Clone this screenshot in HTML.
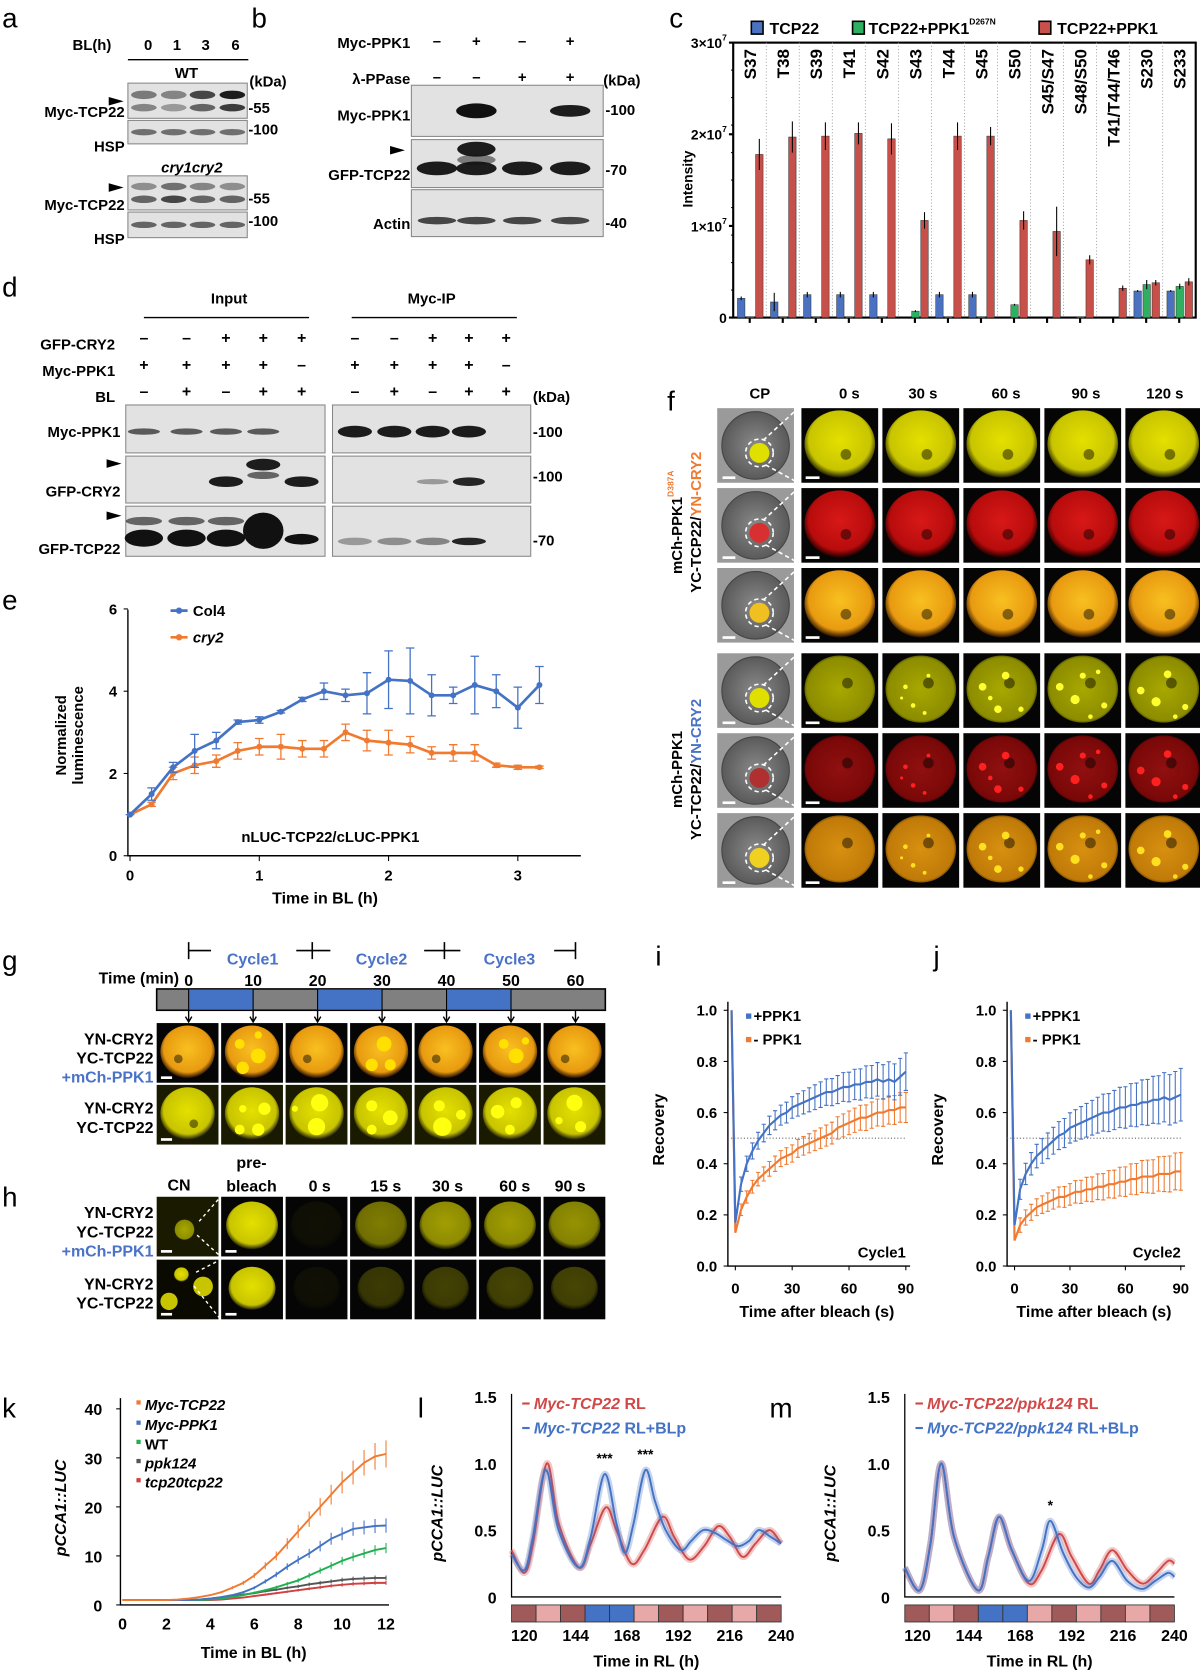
<!DOCTYPE html>
<html><head><meta charset="utf-8">
<style>
html,body{margin:0;padding:0;background:#fff;}
svg{display:block;font-family:"Liberation Sans",Arial,sans-serif;font-weight:bold;}
</style></head>
<body>
<svg id="fig" width="1200" height="1671" viewBox="0 0 1126 1568" xmlns="http://www.w3.org/2000/svg">
<defs>
<radialGradient id="gy" cx="50%" cy="45%" r="55%"><stop offset="0" stop-color="#e4e000"/><stop offset="0.8" stop-color="#c8c400"/><stop offset="1" stop-color="#1a1a00"/></radialGradient>
<radialGradient id="gr" cx="50%" cy="45%" r="55%"><stop offset="0" stop-color="#d81818"/><stop offset="0.8" stop-color="#b80c0c"/><stop offset="1" stop-color="#200000"/></radialGradient>
<radialGradient id="go" cx="50%" cy="45%" r="55%"><stop offset="0" stop-color="#f8c020"/><stop offset="0.8" stop-color="#e89a10"/><stop offset="1" stop-color="#281000"/></radialGradient>
<radialGradient id="gy2" cx="50%" cy="50%" r="55%"><stop offset="0" stop-color="#a8a800"/><stop offset="0.85" stop-color="#8c8c00"/><stop offset="1" stop-color="#101000"/></radialGradient>
<radialGradient id="gr2" cx="50%" cy="50%" r="55%"><stop offset="0" stop-color="#901010"/><stop offset="0.85" stop-color="#7a0808"/><stop offset="1" stop-color="#200000"/></radialGradient>
<radialGradient id="go2" cx="50%" cy="50%" r="55%"><stop offset="0" stop-color="#d89010"/><stop offset="0.85" stop-color="#c07a08"/><stop offset="1" stop-color="#201000"/></radialGradient>
<radialGradient id="gcp" cx="50%" cy="50%" r="50%"><stop offset="0" stop-color="#8a8a8a"/><stop offset="1" stop-color="#5a5a5a"/></radialGradient>
</defs>

<g font-weight="normal" font-size="26" fill="#000">
<text x="2" y="26">a</text>
<text x="236" y="26">b</text>
<text x="628" y="26">c</text>
<text x="2" y="278">d</text>
<text x="2" y="572">e</text>
<text x="626" y="385">f</text>
<text x="2" y="910">g</text>
<text x="2" y="1132">h</text>
<text x="615" y="906">i</text>
<text x="876" y="906">j</text>
<text x="2" y="1330">k</text>
<text x="392" y="1330">l</text>
<text x="722" y="1330">m</text>
</g>

<g font-size="14">
<text x="68" y="47">BL(h)</text>
<text x="139" y="47" text-anchor="middle">0</text>
<text x="166" y="47" text-anchor="middle">1</text>
<text x="193" y="47" text-anchor="middle">3</text>
<text x="221" y="47" text-anchor="middle">6</text>
<line x1="120" y1="56" x2="233" y2="56" stroke="#000" stroke-width="1.3"/>
<text x="175" y="73" text-anchor="middle">WT</text>
<text x="234" y="81">(kDa)</text>
<text x="117" y="110" text-anchor="end">Myc-TCP22</text>
<text x="117" y="142" text-anchor="end">HSP</text>
<text x="180" y="162" text-anchor="middle" font-style="italic">cry1cry2</text>
<text x="117" y="197" text-anchor="end">Myc-TCP22</text>
<text x="117" y="229" text-anchor="end">HSP</text>
<text x="233" y="106">-55</text>
<text x="233" y="126">-100</text>
<text x="233" y="191">-55</text>
<text x="233" y="212">-100</text>
<polygon points="102,91 116,95 102,99" fill="#000"/>
<polygon points="102,172 116,176 102,180" fill="#000"/>
</g>

<g font-size="14">
<text x="385" y="45" text-anchor="end">Myc-PPK1</text>
<text x="385" y="79" text-anchor="end">λ-PPase</text>
<text x="410" y="43" text-anchor="middle">–</text>
<text x="447" y="43" text-anchor="middle">+</text>
<text x="490" y="43" text-anchor="middle">–</text>
<text x="535" y="43" text-anchor="middle">+</text>
<text x="410" y="77" text-anchor="middle">–</text>
<text x="447" y="77" text-anchor="middle">–</text>
<text x="490" y="77" text-anchor="middle">+</text>
<text x="535" y="77" text-anchor="middle">+</text>
<text x="566" y="80">(kDa)</text>
<text x="385" y="113" text-anchor="end">Myc-PPK1</text>
<text x="385" y="169" text-anchor="end">GFP-TCP22</text>
<text x="385" y="215" text-anchor="end">Actin</text>
<text x="568" y="108">-100</text>
<text x="568" y="164">-70</text>
<text x="568" y="214">-40</text>
<polygon points="366,137 380,141 366,145" fill="#000"/>
</g>

<g font-size="14">
<text x="215" y="285" text-anchor="middle">Input</text>
<line x1="135" y1="298" x2="290" y2="298" stroke="#000" stroke-width="1.2"/>
<text x="405" y="285" text-anchor="middle">Myc-IP</text>
<line x1="330" y1="298" x2="485" y2="298" stroke="#000" stroke-width="1.2"/>
<text x="108" y="328" text-anchor="end">GFP-CRY2</text>
<text x="108" y="353" text-anchor="end">Myc-PPK1</text>
<text x="108" y="377" text-anchor="end">BL</text>
<text x="500" y="377">(kDa)</text>
<text x="113" y="410" text-anchor="end">Myc-PPK1</text>
<text x="113" y="466" text-anchor="end">GFP-CRY2</text>
<text x="113" y="520" text-anchor="end">GFP-TCP22</text>
<text x="500" y="410">-100</text>
<text x="500" y="452">-100</text>
<text x="500" y="512">-70</text>
<polygon points="100,431 114,435 100,439" fill="#000"/>
<polygon points="100,480 114,484 100,488" fill="#000"/>
</g>
<g id="dsigns" font-size="15"></g>

<g font-size="15">
<rect x="705" y="20" width="11" height="12" fill="#4a72c0" stroke="#000" stroke-width="1.5"/>
<text x="722" y="32">TCP22</text>
<rect x="800" y="20" width="11" height="12" fill="#2fb060" stroke="#000" stroke-width="1.5"/>
<text x="815" y="32">TCP22+PPK1<tspan font-size="8" dy="-9">D267N</tspan></text>
<rect x="975" y="20" width="11" height="12" fill="#c8504a" stroke="#000" stroke-width="1.5"/>
<text x="992" y="32">TCP22+PPK1</text>
<text transform="translate(650,168) rotate(-90)" text-anchor="middle" font-size="13">Intensity</text>
</g>
<g id="pc"></g>

<g font-size="14">
<text transform="translate(62,690) rotate(-90)" text-anchor="middle">Normalized</text>
<text transform="translate(78,690) rotate(-90)" text-anchor="middle">luminescence</text>
<text x="305" y="848" text-anchor="middle" font-size="15">Time in BL (h)</text>
<text x="310" y="790" text-anchor="middle">nLUC-TCP22/cLUC-PPK1</text>
</g>
<g id="pe"></g>

<g font-size="14">
<text x="713" y="374" text-anchor="middle">CP</text>
<text x="797" y="374" text-anchor="middle">0 s</text>
<text x="866" y="374" text-anchor="middle">30 s</text>
<text x="944" y="374" text-anchor="middle">60 s</text>
<text x="1019" y="374" text-anchor="middle">90 s</text>
<text x="1093" y="374" text-anchor="middle">120 s</text>
<text transform="translate(640,490) rotate(-90)" text-anchor="middle">mCh-PPK1<tspan fill="#f07a30" font-size="8" dy="-8">D387A</tspan></text>
<text transform="translate(658,490) rotate(-90)" text-anchor="middle">YC-TCP22/<tspan fill="#f07a30">YN-CRY2</tspan></text>
<text transform="translate(640,722) rotate(-90)" text-anchor="middle">mCh-PPK1</text>
<text transform="translate(658,722) rotate(-90)" text-anchor="middle">YC-TCP22/<tspan fill="#4a72c8">YN-CRY2</tspan></text>
</g>
<g id="pf"></g>

<g font-size="15">
<text x="237" y="905" text-anchor="middle" fill="#4a72c8">Cycle1</text>
<text x="358" y="905" text-anchor="middle" fill="#4a72c8">Cycle2</text>
<text x="478" y="905" text-anchor="middle" fill="#4a72c8">Cycle3</text>
<text x="168" y="923" text-anchor="end">Time (min)</text>
<text x="168" y="1117" text-anchor="middle">CN</text>
<text x="236" y="1096" text-anchor="middle">pre-</text>
<text x="236" y="1118" text-anchor="middle">bleach</text>
<text x="300" y="1118" text-anchor="middle">0 s</text>
<text x="362" y="1118" text-anchor="middle">15 s</text>
<text x="420" y="1118" text-anchor="middle">30 s</text>
<text x="483" y="1118" text-anchor="middle">60 s</text>
<text x="535" y="1118" text-anchor="middle">90 s</text>
<text x="144" y="980" text-anchor="end">YN-CRY2</text>
<text x="144" y="998" text-anchor="end">YC-TCP22</text>
<text x="144" y="1016" text-anchor="end" fill="#4a72c8">+mCh-PPK1</text>
<text x="144" y="1045" text-anchor="end">YN-CRY2</text>
<text x="144" y="1063" text-anchor="end">YC-TCP22</text>
<text x="144" y="1143" text-anchor="end">YN-CRY2</text>
<text x="144" y="1161" text-anchor="end">YC-TCP22</text>
<text x="144" y="1179" text-anchor="end" fill="#4a72c8">+mCh-PPK1</text>
<text x="144" y="1210" text-anchor="end">YN-CRY2</text>
<text x="144" y="1228" text-anchor="end">YC-TCP22</text>
</g>
<g id="pg"></g>

<g id="pi"></g><g id="pj"></g><g id="pk"></g><g id="pl"></g><g id="pm"></g>
</svg>
<script>
const cCats=['S37','T38','S39','T41','S42','S43','T44','S45','S50','S45/S47','S48/S50','T41/T44/T46','S230','S233'];
const cTCP22=[0.21,0.17,0.25,0.25,0.25,0,0.25,0.25,0,0,0,0,0.29,0.29];
const cD267N=[0.01,0.01,0.01,0.01,0.01,0.07,0.01,0.01,0.14,0,0.01,0,0.36,0.34];
const cPPK1=[1.78,1.97,1.98,2.01,1.95,1.06,1.98,1.98,1.06,0.94,0.63,0.32,0.38,0.39];
const cErrT=[0.02,0.1,0.03,0.03,0.03,0,0.03,0.03,0,0,0,0,0.01,0.01];
const cErrD=[0,0,0,0,0,0.01,0,0,0.01,0,0,0,0.05,0.03];
const cErrP=[0.17,0.17,0.15,0.12,0.17,0.09,0.15,0.1,0.1,0.27,0.05,0.03,0.03,0.04];
const cTicks=['0','1×10','2×10','3×10'];
const eTime=[0,0.167,0.333,0.5,0.667,0.833,1,1.167,1.333,1.5,1.667,1.833,2,2.167,2.333,2.5,2.667,2.833,3,3.167];
const eCol4=[1,1.5,2.15,2.55,2.8,3.25,3.3,3.5,3.8,4.0,3.9,3.95,4.28,4.25,3.9,3.9,4.15,4.0,3.6,4.15];
const eCol4Err=[0,0.15,0.12,0.4,0.2,0.05,0.08,0.03,0.05,0.2,0.15,0.5,0.7,0.8,0.5,0.2,0.7,0.4,0.5,0.45];
const eCry2=[1,1.25,2.0,2.2,2.3,2.55,2.65,2.65,2.6,2.6,3.0,2.8,2.75,2.7,2.5,2.5,2.5,2.2,2.15,2.15];
const eCry2Err=[0,0.05,0.15,0.2,0.15,0.2,0.2,0.3,0.2,0.2,0.2,0.25,0.3,0.2,0.15,0.2,0.2,0.05,0.05,0.03];
const eXTicks=[0,1,2,3];
const eYTicks=[0,2,4,6];
const frapT=[-2,0,3,6,9,12,15,18,21,24,27,30,33,36,39,42,45,48,51,54,57,60,63,66,69,72,75,78,81,84,87,90];
const iPlus=[1.0,0.17,0.32,0.4,0.45,0.49,0.52,0.55,0.57,0.59,0.6,0.62,0.63,0.64,0.65,0.66,0.67,0.68,0.68,0.69,0.7,0.7,0.71,0.71,0.72,0.72,0.73,0.72,0.73,0.72,0.74,0.76];
const iMinus=[1.0,0.13,0.22,0.27,0.31,0.34,0.36,0.38,0.4,0.42,0.43,0.44,0.46,0.47,0.48,0.49,0.5,0.51,0.52,0.54,0.55,0.56,0.57,0.58,0.58,0.59,0.6,0.6,0.61,0.61,0.62,0.62];
const jPlus=[1.0,0.16,0.3,0.36,0.4,0.43,0.45,0.47,0.49,0.51,0.52,0.54,0.55,0.56,0.57,0.58,0.59,0.6,0.6,0.61,0.62,0.62,0.63,0.63,0.64,0.64,0.65,0.65,0.66,0.65,0.66,0.67];
const jMinus=[1.0,0.1,0.16,0.19,0.21,0.23,0.24,0.25,0.26,0.27,0.27,0.28,0.29,0.29,0.3,0.3,0.31,0.31,0.32,0.32,0.33,0.33,0.34,0.34,0.35,0.35,0.35,0.36,0.36,0.36,0.37,0.37];
const frapXTicks=[0,30,60,90];
const frapYTicks=[0,0.2,0.4,0.6,0.8,1.0];
const kTime=[0,0.5,1,1.5,2,2.5,3,3.5,4,4.5,5,5.5,6,6.5,7,7.5,8,8.5,9,9.5,10,10.5,11,11.5,12];
const kMycTCP22=[1,1,1,1,1,1.1,1.3,1.6,2,2.6,3.5,4.5,6,8,10,12.5,15,17.5,20,22.5,25,27,29,30.3,30.8];
const kMycPPK1=[1,1,1,1,1,1,1,1.1,1.3,1.6,2,2.6,3.5,4.8,6.2,7.8,9.2,10.5,12,13.5,14.5,15.5,15.8,16.1,16.2];
const kWT=[1,1,1,1,1,1,1,1,1.1,1.3,1.6,2,2.5,3,3.6,4.3,5,6,7,8,9,9.8,10.5,11.2,11.6];
const kPpk124=[1,1,1,1,1,1,1,1.1,1.3,1.5,1.8,2.1,2.4,2.8,3.1,3.5,3.8,4.2,4.5,4.8,5.1,5.3,5.4,5.5,5.5];
const kTcp=[1,1,1,1,1,1,1,1,1,1.1,1.3,1.5,1.8,2.1,2.4,2.7,3,3.3,3.6,3.9,4.1,4.3,4.4,4.5,4.5];
const kXTicks=[0,2,4,6,8,10,12];
const kYTicks=[0,10,20,30,40];
const lRedT=[114,120,124,130.5,136,145.5,151,158,163,170,176,184.5,190,197,204,210.5,216,222,228,234.5,240];
const lRed=[0.35,0.18,0.4,1.0,0.55,0.22,0.4,0.67,0.5,0.25,0.35,0.6,0.45,0.28,0.38,0.53,0.45,0.3,0.4,0.5,0.4];
const lBlueT=[114,120,124,130,136,145.5,151,157.5,163,167,171,176.5,181,186,193,198,203.5,209,215,220,225,229.5,235,240];
const lBlue=[0.32,0.2,0.45,0.95,0.5,0.22,0.45,0.92,0.55,0.33,0.55,0.95,0.72,0.5,0.35,0.42,0.5,0.48,0.42,0.38,0.42,0.5,0.45,0.4];
const mRedT=[114,121,126,131,137,148,153,158,164,172,178,186,192,200,205,211,218,225,231,237,240];
const mRed=[0.22,0.05,0.4,1.0,0.45,0.05,0.3,0.6,0.35,0.1,0.2,0.47,0.3,0.1,0.2,0.35,0.2,0.1,0.17,0.27,0.25];
const mBlueT=[114,121,126,131,137,148,153,158,164,172,178,182,188,194,200,205,211,218,225,231,237,240];
const mBlue=[0.22,0.05,0.4,1.0,0.45,0.05,0.3,0.6,0.35,0.12,0.35,0.57,0.33,0.15,0.07,0.15,0.27,0.12,0.06,0.12,0.18,0.15];
const lmXTicks=[120,144,168,192,216,240];
const lmYTicks=[0,0.5,1.0,1.5];

const NS='http://www.w3.org/2000/svg';
function el(tag,attrs,parent){const e=document.createElementNS(NS,tag);for(const k in attrs)e.setAttribute(k,attrs[k]);(parent||document.getElementById('fig')).appendChild(e);return e;}
function tx(x,y,s,attrs,parent){const e=el('text',Object.assign({x:x,y:y},attrs||{}),parent);e.textContent=s;return e;}
function smooth(pts){let d='M'+pts[0][0]+','+pts[0][1];for(let i=0;i<pts.length-1;i++){const p0=pts[i-1]||pts[i],p1=pts[i],p2=pts[i+1],p3=pts[i+2]||p2;const c1x=p1[0]+(p2[0]-p0[0])/6,c1y=p1[1]+(p2[1]-p0[1])/6,c2x=p2[0]-(p3[0]-p1[0])/6,c2y=p2[1]-(p3[1]-p1[1])/6;d+=' C'+c1x.toFixed(1)+','+c1y.toFixed(1)+' '+c2x.toFixed(1)+','+c2y.toFixed(1)+' '+p2[0].toFixed(1)+','+p2[1].toFixed(1);}return d;}

function blotBox(x,y,w,h,name){const r=el('rect',{x:x,y:y,width:w,height:h,fill:'#e2e2e2',stroke:'#888','stroke-width':1});

}
function band(cx,cy,w,h,op,name){const e=el('ellipse',{cx:cx,cy:cy,rx:w/2,ry:h/2,fill:'#111','fill-opacity':op});

}
blotBox(120,78,112,33,'a-blot-wt-tcp22');blotBox(120,113,112,22,'a-blot-wt-hsp');
blotBox(120,165,112,32,'a-blot-cry-tcp22');blotBox(120,199,112,24,'a-blot-cry-hsp');
const aL=[135,163,190,218];
[[0.5,0.45],[0.45,0.35],[0.75,0.6],[0.95,0.8]].forEach((o,i)=>{band(aL[i],89,24,8,o[0],'a-band-upper');band(aL[i],101,24,7,o[1],'a-band-lower');band(aL[i],124,24,6,0.55,'a-band-hsp');});
[[0.4,0.6],[0.55,0.75],[0.45,0.6],[0.4,0.6]].forEach((o,i)=>{band(aL[i],175,24,7,o[0],'a-band-upper');band(aL[i],187,24,7,o[1],'a-band-lower');band(aL[i],211,24,6,0.6,'a-band-hsp');});
blotBox(386,80,180,48,'b-blot-ppk1');blotBox(386,131,180,45,'b-blot-tcp22');blotBox(386,178,180,44,'b-blot-actin');
const bL=[410,447,490,535];
band(447,104,38,14,1,'b-band-ppk1');band(535,104,38,11,0.95,'b-band-ppk1');
bL.forEach(x=>{band(x,158,38,13,0.95,'b-band-tcp22');band(x,207,36,7,0.75,'b-band-actin');});
band(447,140,36,14,0.95,'b-band-tcp22-shift');band(447,150,36,10,0.5,'b-band-smear');
blotBox(118,380,187,45,'d-blot-input-ppk1');blotBox(312,380,186,45,'d-blot-ip-ppk1');
blotBox(118,428,187,44,'d-blot-input-cry2');blotBox(312,428,186,44,'d-blot-ip-cry2');
blotBox(118,475,187,47,'d-blot-input-tcp22');blotBox(312,475,186,47,'d-blot-ip-tcp22');
const dIn=[135,175,212,247,283],dIP=[333,370,406,440,475];
[0,1,2,3].forEach(i=>{band(dIn[i],405,30,6,0.65,'d-band');band(dIP[i],405,32,11,0.95,'d-band');});
band(dIn[2],452,32,10,0.95,'d-band');band(dIn[4],452,32,10,0.95,'d-band');band(dIn[3],436,32,11,0.95,'d-band');band(dIn[3],446,30,7,0.6,'d-band');
band(dIP[2],452,30,5,0.35,'d-band');band(dIP[3],452,30,8,0.9,'d-band');
[0,1,2].forEach(i=>{band(dIn[i],505,36,16,1,'d-band');band(dIn[i],489,34,8,0.6,'d-band');});
band(dIn[3],498,38,34,1,'d-band');band(dIn[4],506,32,10,1,'d-band');
[0.35,0.4,0.45,0.9].forEach((o,i)=>band(dIP[i],508,32,7,o,'d-band'));
const dsg=document.getElementById('dsigns');
const dRows=[['–','–','+','+','+'],['+','+','+','+','–'],['–','+','–','+','+']];
dRows.forEach((row,r)=>row.forEach((s,c)=>{[dIn,dIP].forEach(arr=>{const t=tx(arr[c],322+r*25,s,{'text-anchor':'middle'},dsg);

});}));

(function(){const g=document.getElementById('pc');
const x0=688,x1=1122,y0=298,yTop=40,gw=(x1-x0)/cCats.length;
const ys=v=>y0-(v/3)*(y0-yTop);
let fr=el('rect',{x:x0,y:yTop,width:x1-x0,height:y0-yTop,fill:'none',stroke:'#000','stroke-width':2},g);


cTicks.forEach((t,i)=>{const y=ys(i);let l=el('line',{x1:x0-4,y1:y,x2:x0,y2:y,stroke:'#000','stroke-width':2},g);


const tt=tx(x0-6,y+5,t,{'text-anchor':'end','font-size':13},g);


if(i>0){const s=el('tspan',{'font-size':8,dy:-7},tt);s.textContent='7';}});
for(let i=1;i<10;i++){const l=el('line',{x1:x0-2,y1:ys(i*0.3),x2:x0,y2:ys(i*0.3),stroke:'#000'},g);}
cCats.forEach((c,i)=>{const gx=x0+i*gw;
if(i>0){const d=el('line',{x1:gx,y1:yTop,x2:gx,y2:y0,stroke:'#999','stroke-dasharray':'1,2','stroke-width':0.8},g);}
const lt=tx(0,0,c,{transform:'translate('+(gx+gw/2+6)+',46) rotate(-90)','text-anchor':'end','font-size':16},g);


const tk=el('line',{x1:gx+gw/2,y1:y0,x2:gx+gw/2,y2:y0+5,stroke:'#000','stroke-width':2},g);
[[cTCP22,cErrT,'#4a72c0'],[cD267N,cErrD,'#2fb060'],[cPPK1,cErrP,'#c8504a']].forEach((s,k)=>{const v=s[0][i];const bx=gx+4+k*8.5;
const b=el('rect',{x:bx,y:ys(v),width:7,height:y0-ys(v),fill:s[2],stroke:'#333','stroke-width':0.5},g);


if(s[1][i]>0){const e=el('line',{x1:bx+3.5,y1:ys(v+s[1][i]),x2:bx+3.5,y2:ys(Math.max(0,v-s[1][i])),stroke:'#000','stroke-width':1},g);

}});});
})();

(function(){const g=document.getElementById('pe');
const xs=t=>122+t*121.3, ys=v=>803-v*38.6;
const ax=el('path',{d:'M120,572 L120,803 L545,803',fill:'none',stroke:'#000','stroke-width':1.3},g);


eYTicks.forEach(v=>{const l=el('line',{x1:116,y1:ys(v),x2:120,y2:ys(v),stroke:'#000'},g);
const t=tx(106,ys(v)+5,String(v),{'text-anchor':'middle','font-size':14},g);});
eXTicks.forEach(v=>{const l=el('line',{x1:xs(v),y1:803,x2:xs(v),y2:808,stroke:'#000'},g);
const t=tx(xs(v),826,String(v),{'text-anchor':'middle','font-size':14},g);});
[[eCry2,eCry2Err,'#f07a30','cry2'],[eCol4,eCol4Err,'#4472c4','col4']].forEach(s=>{
const pts=eTime.map((t,i)=>xs(t)+','+ys(s[0][i])).join(' ');
const p=el('polyline',{points:pts,fill:'none',stroke:s[2],'stroke-width':2.5},g);


eTime.forEach((t,i)=>{const v=s[0][i],e=s[1][i];
const eb=el('path',{d:'M'+xs(t)+','+ys(v+e)+' V'+ys(v-e)+' M'+(xs(t)-4)+','+ys(v+e)+' h8 M'+(xs(t)-4)+','+ys(v-e)+' h8',stroke:s[2],'stroke-width':1.2,fill:'none'},g);


const c=el('circle',{cx:xs(t),cy:ys(v),r:2.8,fill:s[2]},g);

});});
[['#4472c4','Col4',578,'normal'],['#f07a30','cry2',603,'italic']].forEach(s=>{
const l=el('line',{x1:160,y1:s[2]-5,x2:176,y2:s[2]-5,stroke:s[0],'stroke-width':2.5},g);
const c=el('circle',{cx:168,cy:s[2]-5,r:3,fill:s[0]},g);
const t=tx(181,s[2],s[1],{'font-size':14,'font-style':s[3]},g);});
})();

function cellTile(g,x,y,w,h,grad,opts){opts=opts||{};
const bg=el('rect',{x:x,y:y,width:w,height:h,fill:opts.bg||'#050505'},g);


if(opts.cell!==false){const c=el('ellipse',{cx:x+w*(opts.cx||0.5),cy:y+h*(opts.cy||0.48),rx:w*(opts.rx||0.44),ry:h*(opts.ry||0.44),fill:grad,opacity:opts.op||1},g);

}
if(opts.nuc){const n=el('circle',{cx:x+w*opts.nuc[0],cy:y+h*opts.nuc[1],r:w*0.07,fill:'#000',opacity:0.45},g);

}
(opts.dots||[]).forEach(d=>{const c=el('circle',{cx:x+w*d[0],cy:y+h*d[1],r:w*d[2],fill:opts.dotc||'#ffff20'},g);

});
if(opts.bar){const b=el('rect',{x:x+4,y:y+h-6,width:w*0.18,height:2.5,fill:'#fff'},g);}}
function cpTile(g,x,y,w,h,col,name){const bg=el('rect',{x:x,y:y,width:w,height:h,fill:'#9a9a9a'},g);


const c=el('circle',{cx:x+w/2,cy:y+h/2,r:w*0.44,fill:'url(#gcp)',stroke:'#444','stroke-width':1},g);
const n=el('circle',{cx:x+w*0.55,cy:y+h*0.6,r:w*0.13,fill:col},g);
const d=el('circle',{cx:x+w*0.55,cy:y+h*0.6,r:w*0.18,fill:'none',stroke:'#fff','stroke-width':1.5,'stroke-dasharray':'4,3'},g);
const l=el('path',{d:'M'+(x+w*0.6)+','+(y+h*0.43)+' L'+(x+w+4)+','+y+' M'+(x+w*0.63)+','+(y+h*0.76)+' L'+(x+w+4)+','+(y+h),stroke:'#fff','stroke-width':1.5,'stroke-dasharray':'4,3'},g);
const sb=el('rect',{x:x+5,y:y+h-6,width:12,height:2.5,fill:'#fff'},g);}
(function(){const g=document.getElementById('pf');
const cols=[752,828,904,980,1056],rows=[383,458,533,613,688,763];
const grads=['url(#gy)','url(#gr)','url(#go)','url(#gy2)','url(#gr2)','url(#go2)'];
const cpc=['#e0e000','#d83030','#f0c020','#e0e000','#b03030','#f0d020'];
const dotc=['#ffff30','#ff2020','#ffe020'];
const dotSets=[[],[[0.3,0.45,0.03],[0.4,0.7,0.03],[0.6,0.3,0.025],[0.25,0.6,0.02],[0.55,0.8,0.025]],
[[0.25,0.45,0.05],[0.55,0.3,0.05],[0.45,0.75,0.05],[0.75,0.75,0.035],[0.35,0.6,0.03]],
[[0.2,0.45,0.05],[0.5,0.3,0.04],[0.4,0.62,0.06],[0.78,0.7,0.04],[0.6,0.85,0.03],[0.7,0.25,0.03]],
[[0.2,0.5,0.05],[0.55,0.28,0.05],[0.4,0.65,0.06],[0.78,0.72,0.04],[0.65,0.85,0.03]]];
rows.forEach((y,r)=>{cpTile(g,673,y,72,70,cpc[r],'f-cp-image');
cols.forEach((x,c)=>{const o={name:'f-micrograph',nuc:r<3?[0.58,0.62]:[0.6,0.4],bar:c===0,rx:0.46,ry:0.45};
if(r>=3){o.dots=dotSets[c];o.dotc=dotc[r-3];}
cellTile(g,x,y,72,70,grads[r],o);});});
})();

(function(){const g=document.getElementById('pg');
const tm=[0,10,20,30,40,50,60],xs=t=>177+t*6.05;
const bar=el('rect',{x:147,y:928,width:421,height:20,fill:'#808080',stroke:'#000','stroke-width':1.5},g);
[[0,10],[20,30],[40,50]].forEach(s=>{const b=el('rect',{x:xs(s[0]),y:928,width:xs(s[1])-xs(s[0]),height:20,fill:'#4472c4',stroke:'#000','stroke-width':1},g);});
tm.forEach(t=>{const x=xs(t);const tt=tx(x,925,String(t),{'text-anchor':'middle','font-size':15},g);
const a=el('path',{d:'M'+x+',948 V958 M'+(x-3)+',954 L'+x+',959 L'+(x+3)+',954',stroke:'#000','stroke-width':1.3,fill:'none'},g);});
const br=el('path',{d:'M177,884 V900 M177,892 H198 M278,892 H310 M293,884 V900 M398,892 H432 M417,884 V900 M520,892 H540 M540,884 V900',stroke:'#000','stroke-width':1.5,fill:'none'},g);
const tx0=147,tw=58,step=60.5;
const blob1=[[],[[0.3,0.35,0.08],[0.6,0.55,0.12],[0.35,0.75,0.1],[0.6,0.2,0.06]],[],[[0.55,0.35,0.12],[0.35,0.7,0.1],[0.65,0.7,0.09]],[],[[0.6,0.55,0.12],[0.4,0.35,0.08],[0.75,0.3,0.06]],[]];
const blob2=[[],[[0.35,0.4,0.06],[0.7,0.4,0.1],[0.6,0.75,0.1],[0.3,0.75,0.08]],[[0.55,0.3,0.14],[0.5,0.7,0.14],[0.15,0.4,0.05]],[[0.35,0.35,0.09],[0.65,0.55,0.12],[0.35,0.75,0.08]],[[0.4,0.35,0.09],[0.45,0.7,0.15],[0.75,0.5,0.08]],[[0.3,0.45,0.11],[0.6,0.3,0.09],[0.5,0.75,0.08]],[[0.5,0.3,0.13],[0.6,0.7,0.09],[0.25,0.6,0.06]]];
for(let i=0;i<7;i++){const x=tx0+i*step;
cellTile(g,x,960,tw,56,'url(#go)',{name:'g-micrograph-ppk1',dots:blob1[i],dotc:'#ffe000',nuc:i%2===0?[0.35,0.6]:null,bar:i===0});
cellTile(g,x,1018,tw,56,'url(#gy)',{name:'g-micrograph-ctrl',dots:blob2[i],dotc:'#ffff10',nuc:i===0?[0.6,0.65]:null,bar:i===0,bg:'#1a1a00'});}
const hop=[1,1,0.05,0.55,0.7,0.7,0.65],hop2=[1,1,0.05,0.25,0.28,0.3,0.3];
for(let i=0;i<7;i++){const x=tx0+i*step;
if(i===0){cellTile(g,x,1123,tw,56,'url(#gy2)',{name:'h-cn-image',rx:0.16,ry:0.17,cx:0.45,cy:0.55,bar:true,bg:'#1a1a00'});
cellTile(g,x,1182,tw,56,'url(#gy)',{name:'h-cn-image-2',rx:0.12,ry:0.12,cx:0.4,cy:0.25,dots:[[0.2,0.7,0.14],[0.75,0.45,0.16]],dotc:'#c8c400',bar:true,bg:'#0a0a00'});
[[0.55,0.5],[0.5,0.3]].forEach((c,k)=>{const cy=k?1182:1123;const d=el('path',{d:'M'+(x+tw*c[0]+8)+','+(cy+56*c[1]-5)+' L'+(x+tw+2)+','+cy+' M'+(x+tw*c[0]+6)+','+(cy+56*c[1]+8)+' L'+(x+tw+2)+','+(cy+56),stroke:'#fff','stroke-width':1.3,'stroke-dasharray':'3,3'},g);});}
else{cellTile(g,x,1123,tw,56,'url(#gy)',{name:'h-frap-image',op:hop[i],rx:0.42,ry:0.4,bar:i===1});
cellTile(g,x,1182,tw,56,'url(#gy)',{name:'h-frap-image-2',op:hop2[i],rx:0.38,ry:0.36,bar:i===1});}}
})();

function frap(gid,x0,xEnd,plus,minus,plusErr,minusErr,label,p){const g=document.getElementById(gid);
const y0=1188,ys=v=>y0-v*240,xs=t=>x0+7+t*(xEnd-x0-7)/90;
const ax=el('path',{d:'M'+x0+',940 V'+y0+' H'+(xEnd+4),fill:'none',stroke:'#000','stroke-width':1.3},g);
frapYTicks.forEach(v=>{const l=el('line',{x1:x0-4,y1:ys(v),x2:x0,y2:ys(v),stroke:'#000'},g);
const t=tx(x0-10,ys(v)+5,v.toFixed(1),{'text-anchor':'end','font-size':14},g);});
frapXTicks.forEach(v=>{const l=el('line',{x1:xs(v),y1:y0,x2:xs(v),y2:y0+4,stroke:'#000'},g);
const t=tx(xs(v),1214,String(v),{'text-anchor':'middle','font-size':14},g);});
const hl=el('line',{x1:x0,y1:ys(0.5),x2:xEnd,y2:ys(0.5),stroke:'#666','stroke-dasharray':'1,2'},g);
[[minus,minusErr,'#f07a30','minus'],[plus,plusErr,'#4472c4','plus']].forEach(s=>{
frapT.forEach((t,i)=>{if(i<2)return;const v=s[0][i],e=s[1]*(0.5+i/frapT.length);
const eb=el('path',{d:'M'+xs(t)+','+ys(v+e)+' V'+ys(v-e)+' M'+(xs(t)-2)+','+ys(v+e)+' h4 M'+(xs(t)-2)+','+ys(v-e)+' h4',stroke:s[2],'stroke-width':1,fill:'none'},g);

});
const pl=el('polyline',{points:frapT.map((t,i)=>xs(t)+','+ys(s[0][i])).join(' '),fill:'none',stroke:s[2],'stroke-width':2},g);

});
[['#4472c4','+PPK1',958],['#f07a30','- PPK1',980]].forEach(s=>{const m=el('rect',{x:x0+17,y:s[2]-7,width:5,height:5,fill:s[0]},g);
const t=tx(x0+24,s[2],s[1],{'font-size':14},g);});
const cl=tx(xEnd,1180,label,{'text-anchor':'end','font-size':14},g);
const yt=tx(0,0,'Recovery',{transform:'translate('+(x0-60)+',1060) rotate(-90)','text-anchor':'middle','font-size':15},g);
const xt=tx((x0+xEnd)/2,1236,'Time after bleach (s)',{'text-anchor':'middle','font-size':15},g);}
frap('pi',683,850,iPlus,iMinus,0.05,0.04,'Cycle1','i');
frap('pj',945,1108,jPlus,jMinus,0.07,0.05,'Cycle2','j');

(function(){const g=document.getElementById('pk');
const xs=t=>115+t*20.6,ys=v=>1506-v*4.6;
const ax=el('path',{d:'M113,1312 V1506 H365',fill:'none',stroke:'#000','stroke-width':1.3},g);
kYTicks.forEach(v=>{const t=tx(96,ys(v)+6,String(v),{'text-anchor':'end','font-size':15},g);
const l=el('line',{x1:109,y1:ys(v),x2:113,y2:ys(v),stroke:'#000'},g);});
kXTicks.forEach(v=>{const t=tx(xs(v),1529,String(v),{'text-anchor':'middle','font-size':15},g);});
const ser=[[kTcp,'#d04040','tcp20tcp22'],[kPpk124,'#555555','ppk124'],[kWT,'#20b050','WT'],[kMycPPK1,'#4472c4','Myc-PPK1'],[kMycTCP22,'#f07a30','Myc-TCP22']];
ser.forEach(s=>{kTime.forEach((t,i)=>{const v=s[0][i],e=v*0.09;const eb=el('line',{x1:xs(t),y1:ys(v+e),x2:xs(t),y2:ys(v-e),stroke:s[1],'stroke-width':1},g);});
const pl=el('polyline',{points:kTime.map((t,i)=>xs(t)+','+ys(s[0][i])).join(' '),fill:'none',stroke:s[1],'stroke-width':1.8},g);

});
const leg=[['#f07a30','Myc-TCP22',1323],['#4472c4','Myc-PPK1',1342],['#20b050','WT',1360],['#555555','ppk124',1378],['#d04040','tcp20tcp22',1396]];
leg.forEach(s=>{const m=el('rect',{x:128,y:s[2]-9,width:4,height:4,fill:s[0]},g);
const t=tx(136,s[2],s[1],{'font-size':14,'font-style':s[1]==='WT'?'normal':'italic'},g);});
const yt=tx(0,0,'pCCA1::LUC',{transform:'translate(62,1415) rotate(-90)','text-anchor':'middle','font-size':15,'font-style':'italic'},g);
const xt=tx(238,1556,'Time in BL (h)',{'text-anchor':'middle','font-size':15},g);})();

function circ(gid,p,x0,redT,red,blueT,blue,legR,legB,stars){const g=document.getElementById(gid);
const xs=t=>x0+(t-114)*2.008,ys=v=>1498.5-v*125.3,xEnd=xs(240);
const ax=el('path',{d:'M'+x0+',1308 V1498.5 H'+xEnd,fill:'none',stroke:'#000','stroke-width':1.2},g);
lmYTicks.forEach(v=>{const t=tx(x0-14,ys(v)+6,v===0?'0':v.toFixed(1),{'text-anchor':'end','font-size':15},g);});
lmXTicks.forEach(v=>{const t=tx(xs(v),1540,String(v),{'text-anchor':'middle','font-size':15},g);});
const segC=['#a05a5a','#e8a8a8','#a05a5a','#4472c4','#4472c4','#e8a8a8','#a05a5a','#e8a8a8','#a05a5a','#e8a8a8','#a05a5a'];
const sw=(xEnd-x0)/segC.length;
segC.forEach((c,i)=>{const r=el('rect',{x:x0+i*sw,y:1506,width:sw,height:16,fill:c,stroke:'#333','stroke-width':0.8},g);});
[[redT,red,'#d04848','rl'],[blueT,blue,'#4472c4','rl-blp']].forEach(s=>{const pts=s[0].map((t,i)=>[xs(t),ys(s[1][i])]);
const bd=el('path',{d:smooth(pts),fill:'none',stroke:s[2],'stroke-opacity':0.3,'stroke-width':6},g);
const ln=el('path',{d:smooth(pts),fill:'none',stroke:s[2],'stroke-width':1.8},g);});
stars.forEach(s=>{const t=tx(xs(s[0]),ys(s[1])-4,s[2],{'text-anchor':'middle','font-size':13},g);});
[[legR,'#d04848',1322],[legB,'#4472c4',1345]].forEach(s=>{const m=el('line',{x1:x0+10,y1:s[2]-5,x2:x0+17,y2:s[2]-5,stroke:s[1],'stroke-width':2},g);
const t=tx(x0+21,s[2],s[0][0],{'font-size':15,fill:s[1],'font-style':'italic'},g);const ts=el('tspan',{'font-style':'normal'},t);ts.textContent=s[0][1];
});
const yt=tx(0,0,'pCCA1::LUC',{transform:'translate('+(x0-65)+',1420) rotate(-90)','text-anchor':'middle','font-size':15,'font-style':'italic'},g);
const xt=tx((x0+xEnd)/2,1564,'Time in RL (h)',{'text-anchor':'middle','font-size':15},g);}
circ('pl','l',480,lRedT,lRed,lBlueT,lBlue,['Myc-TCP22',' RL'],['Myc-TCP22',' RL+BLp'],[[157.5,0.97,'***'],[176.5,1.0,'***']]);
circ('pm','m',849,mRedT,mRed,mBlueT,mBlue,['Myc-TCP22/ppk124',' RL'],['Myc-TCP22/ppk124',' RL+BLp'],[[182,0.62,'*']]);
</script>
</body></html>
